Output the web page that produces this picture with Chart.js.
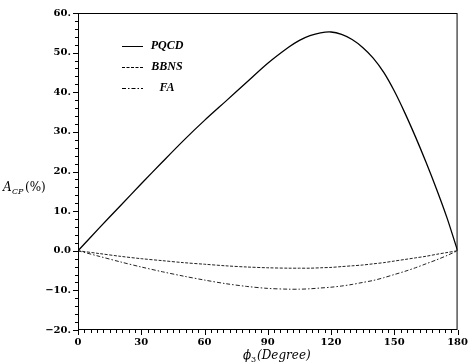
<!DOCTYPE html>
<html>
<head>
<meta charset="utf-8">
<script src="https://cdn.jsdelivr.net/npm/chart.js@4.4.1/dist/chart.umd.min.js"></script>
<style>
  html, body { margin: 0; padding: 0; background: #fff; }
  #wrap { width: 474px; height: 364px; }
</style>
</head>
<body>
<div id="wrap"><canvas id="acpChart" width="474" height="364"></canvas></div>
<script>
// phi3 in degrees
const phi = [0, 10, 20, 30, 40, 50, 60, 70, 80, 90, 100, 105, 110, 115, 120, 125, 130, 135, 140, 145, 150, 155, 160, 165, 170, 175, 180];
// A_CP (%)
const pqcd = [0, 5.7, 11.3, 16.9, 22.4, 27.8, 32.9, 37.7, 42.5, 47.3, 51.4, 53.1, 54.3, 55.0, 55.2, 54.6, 53.3, 51.3, 48.6, 45.0, 40.3, 34.8, 28.8, 22.4, 15.6, 8.3, 0];
const bbns = [0, -0.7, -1.4, -2.0, -2.5, -3.0, -3.4, -3.8, -4.1, -4.3, -4.4, -4.4, -4.4, -4.3, -4.2, -4.0, -3.8, -3.6, -3.3, -3.0, -2.6, -2.2, -1.8, -1.4, -0.9, -0.45, 0];
const fa = [0, -1.4, -2.8, -4.1, -5.3, -6.4, -7.4, -8.3, -9.0, -9.5, -9.7, -9.7, -9.6, -9.4, -9.2, -8.9, -8.5, -8.0, -7.5, -6.8, -6.0, -5.2, -4.3, -3.3, -2.3, -1.2, 0];

const labelFont = { family: 'DejaVu Serif', size: 10, weight: 'bold' };

function pts(ys) { return phi.map((x, i) => ({ x: x, y: ys[i] })); }

const frame = {
  id: 'frame',
  afterDraw(chart) {
    const ctx = chart.ctx;
    const a = chart.chartArea;
    const xs = chart.scales.x, ys = chart.scales.y;
    ctx.save();
    ctx.strokeStyle = '#000';
    ctx.lineWidth = 1;
    ctx.strokeRect(a.left + 0.5, a.top + 0.5, a.right - a.left - 1, a.bottom - a.top - 1);
    // tick marks
    ctx.beginPath();
    for (let v = 0; v <= 180; v += 3) {
      const px = Math.round(xs.getPixelForValue(v)) + 0.5;
      const len = v % 30 === 0 ? 5 : 3;
      ctx.moveTo(px, a.bottom);
      ctx.lineTo(px, a.bottom + len);
    }
    for (let v = -20; v <= 60; v += 2) {
      const py = Math.round(ys.getPixelForValue(v)) + 0.5;
      const len = v % 10 === 0 ? 5 : 3;
      ctx.moveTo(a.left - len, py);
      ctx.lineTo(a.left + 1, py);
    }
    ctx.stroke();

    // legend
    const items = [
      { t: 'PQCD', dash: [], y: 46 },
      { t: 'BBNS', dash: [3, 1.5], y: 67 },
      { t: 'FA', dash: [4, 2, 1.5, 2], y: 88 }
    ];
    ctx.font = 'italic bold 12px "Liberation Serif"';
    ctx.textAlign = 'center';
    ctx.textBaseline = 'middle';
    ctx.fillStyle = '#000';
    items.forEach(it => {
      ctx.setLineDash(it.dash);
      ctx.lineWidth = 1;
      ctx.beginPath();
      ctx.moveTo(122, it.y + 0.5);
      ctx.lineTo(143, it.y + 0.5);
      ctx.stroke();
      ctx.fillText(it.t, 167, it.y);
    });
    ctx.setLineDash([]);

    // y title  A_CP(%)
    ctx.textAlign = 'left';
    ctx.textBaseline = 'alphabetic';
    ctx.font = 'italic 12px "DejaVu Serif"';
    ctx.fillText('A', 3, 191);
    ctx.font = 'italic 8px "DejaVu Serif"';
    ctx.fillText('CP', 12, 194);
    ctx.font = '12px "DejaVu Serif"';
    ctx.fillText('(%)', 25, 191);

    // x title  phi_3(Degree)
    ctx.font = 'italic 12px "DejaVu Serif"';
    ctx.fillText('\u03D5', 243, 359);
    ctx.font = '8px "DejaVu Serif"';
    ctx.fillText('3', 251, 362);
    ctx.font = 'italic 12px "DejaVu Serif"';
    ctx.fillText('(Degree)', 257, 359);
    ctx.restore();
  }
};

const ctx = document.getElementById('acpChart').getContext('2d');
new Chart(ctx, {
  type: 'line',
  data: {
    datasets: [
      { label: 'PQCD', data: pts(pqcd), borderColor: '#000', borderWidth: 1.3, borderDash: [] },
      { label: 'BBNS', data: pts(bbns), borderColor: '#222', borderWidth: 1, borderDash: [3, 1.5] },
      { label: 'FA', data: pts(fa), borderColor: '#222', borderWidth: 1, borderDash: [4, 2, 1.5, 2] }
    ]
  },
  options: {
    responsive: false,
    animation: false,
    layout: { padding: { top: 6, right: 8, left: 0, bottom: 0 } },
    elements: {
      point: { radius: 0 },
      line: { tension: 0.3, fill: false }
    },
    plugins: { legend: { display: false }, tooltip: { enabled: false } },
    scales: {
      x: {
        type: 'linear',
        min: 0, max: 180,
        grid: { display: false, drawTicks: false },
        border: { display: false },
        afterFit: s => { s.height = 34; },
        ticks: { stepSize: 30, padding: 6, color: '#000', font: labelFont, maxRotation: 0 }
      },
      y: {
        min: -20, max: 60,
        grid: { display: false, drawTicks: false },
        border: { display: false },
        afterFit: s => { s.width = 78; },
        ticks: {
          stepSize: 10, padding: 7, color: '#000', font: labelFont,
          callback: v => v === 0 ? '0.0' : (v < 0 ? '\u2212' + (-v) + '.' : v + '.')
        }
      }
    }
  },
  plugins: [frame]
});
</script>
</body>
</html>
